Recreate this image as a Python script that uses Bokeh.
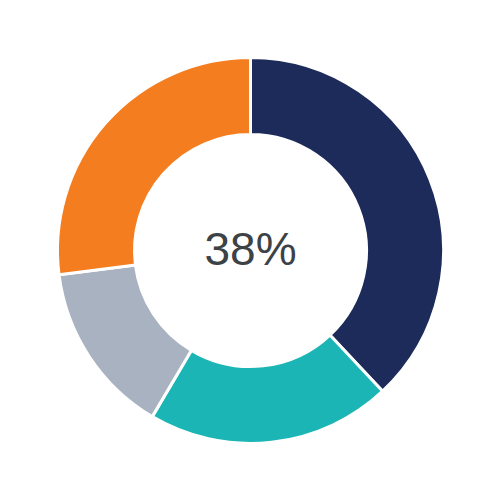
import numpy as np
from bokeh.plotting import figure
from bokeh.models import ColumnDataSource
from bokeh.core.properties import value
from bokeh.embed import file_html
from bokeh.resources import INLINE

# 各分块数值（百分比），从12点方向顺时针
segments = ['A', 'B', 'C', 'D']
shares = [38, 20.5, 14.5, 27]
colors = ['#1c2b5a', '#1bb5b6', '#a8b2c0', '#f47d20']
center_label = '38%'

# 计算角度
frac = np.array(shares) / sum(shares)
ends = np.pi / 2 - np.cumsum(frac) * 2 * np.pi
starts = np.concatenate([[np.pi / 2], ends[:-1]])

src = ColumnDataSource(dict(seg=segments, start=starts, end=ends, color=colors))

# 圆心放在页面 (250, 250)
p = figure(width=484, height=484, x_range=(-250, 234), y_range=(-234, 250),
           output_backend="svg", toolbar_location=None, min_border=0)
p.axis.visible = False
p.grid.visible = False
p.outline_line_color = None
p.background_fill_color = 'white'

p.annular_wedge(x=0, y=0, inner_radius=116, outer_radius=193,
                start_angle='start', end_angle='end', direction='clock',
                fill_color='color', line_color='white', line_width=3, source=src)

p.text(x=[0], y=[2], text=[center_label], text_align='center', text_baseline='middle',
       text_font=value('Liberation Sans'), text_font_size='46px', text_color='#3c4246')

open("out.html", "w").write(file_html(p, INLINE))
